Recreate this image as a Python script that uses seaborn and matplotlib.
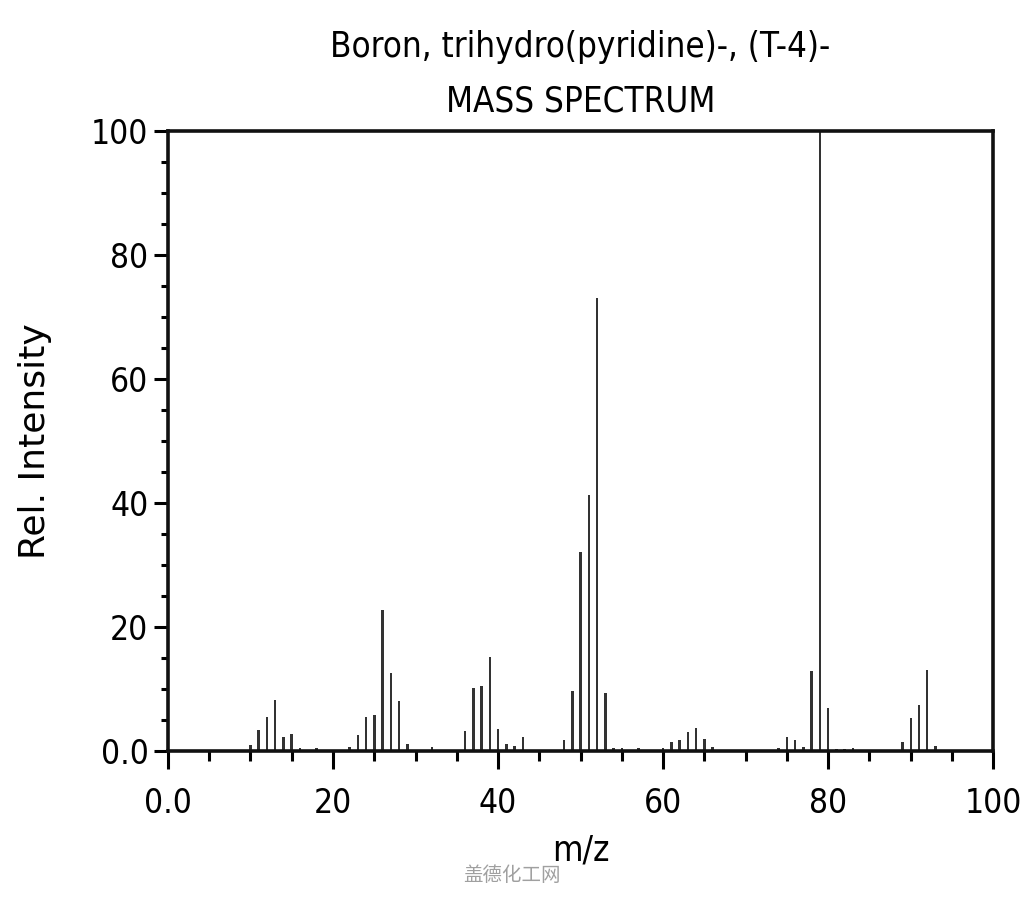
import matplotlib
matplotlib.use("Agg")
import matplotlib.pyplot as plt
import seaborn as sns
import pandas as pd
from matplotlib.ticker import MultipleLocator, FuncFormatter

# peak list (m/z, relative intensity)
mz = [10, 11, 12, 13, 14, 15, 16, 18,
      22, 23, 24, 25, 26, 27, 28, 29, 32,
      36, 37, 38, 39, 40, 41, 42, 43,
      48, 49, 50, 51, 52, 53, 54, 55, 57,
      60, 61, 62, 63, 64, 65, 66,
      74, 75, 76, 77, 78, 79, 80, 81, 82, 83,
      89, 90, 91, 92, 93]
intensity = [0.9, 3.4, 5.5, 8.2, 2.3, 2.7, 0.4, 0.4,
             0.7, 2.6, 5.5, 5.8, 22.8, 12.5, 8.1, 1.2, 0.7,
             3.2, 10.1, 10.4, 15.1, 3.5, 1.2, 0.8, 2.3,
             1.8, 9.6, 32.1, 41.3, 73.1, 9.4, 0.4, 0.4, 0.4,
             0.5, 1.4, 1.8, 3.0, 3.7, 2.0, 0.7,
             0.4, 2.3, 1.8, 0.7, 12.9, 100.0, 7.0, 0.3, 0.3, 0.5,
             1.4, 5.3, 7.4, 13.1, 0.8]

title = "Boron, trihydro(pyridine)-, (T-4)-\nMASS SPECTRUM"
watermark = "盖德化工网"

sns.set_style("ticks")
plt.rcParams['font.family'] = ['DejaVu Sans']
plt.rcParams['font.stretch'] = 'condensed'
plt.rcParams['text.color'] = 'black'
plt.rcParams['axes.labelcolor'] = 'black'
plt.rcParams['xtick.color'] = 'black'
plt.rcParams['ytick.color'] = 'black'

df = pd.DataFrame({"mz": mz, "intensity": intensity})

fig = plt.figure(figsize=(10.24, 9), dpi=100)
ax = fig.add_axes([0.164, 0.1656, 0.806, 0.6888])

sns.barplot(data=df, x="mz", y="intensity", native_scale=True, width=0.3,
            color="#333333", saturation=1, linewidth=0, ax=ax)

ax.set_xlim(0, 100)
ax.set_ylim(0, 100)

fmt = FuncFormatter(lambda v, p: "0.0" if v == 0 else f"{int(v)}")
ax.xaxis.set_major_locator(MultipleLocator(20))
ax.xaxis.set_minor_locator(MultipleLocator(5))
ax.yaxis.set_major_locator(MultipleLocator(20))
ax.yaxis.set_minor_locator(MultipleLocator(5))
ax.xaxis.set_major_formatter(fmt)
ax.yaxis.set_major_formatter(fmt)

for s in ax.spines.values():
    s.set_linewidth(2.6)
    s.set_color("#111111")
ax.tick_params(axis="x", which="major", length=13, width=2.2, labelsize=24, pad=13, direction="out")
ax.tick_params(axis="x", which="minor", length=7, width=2.2, direction="out")
ax.tick_params(axis="y", which="major", length=10, width=2.2, labelsize=24, pad=4, direction="out")
ax.tick_params(axis="y", which="minor", length=5, width=2.2, direction="out")

ax.set_xlabel("m/z", fontsize=25, labelpad=10)
ax.set_ylabel("Rel. Intensity", fontsize=26, labelpad=28, fontstretch="normal")
ax.set_title(title, fontsize=25, linespacing=1.75, pad=14)

fig.text(0.5, 0.027, watermark, ha="center", va="center", fontsize=14,
         color="#a0a0a0", family=["Noto Sans CJK SC", "DejaVu Sans"])

fig.savefig("out.png", dpi=100)
